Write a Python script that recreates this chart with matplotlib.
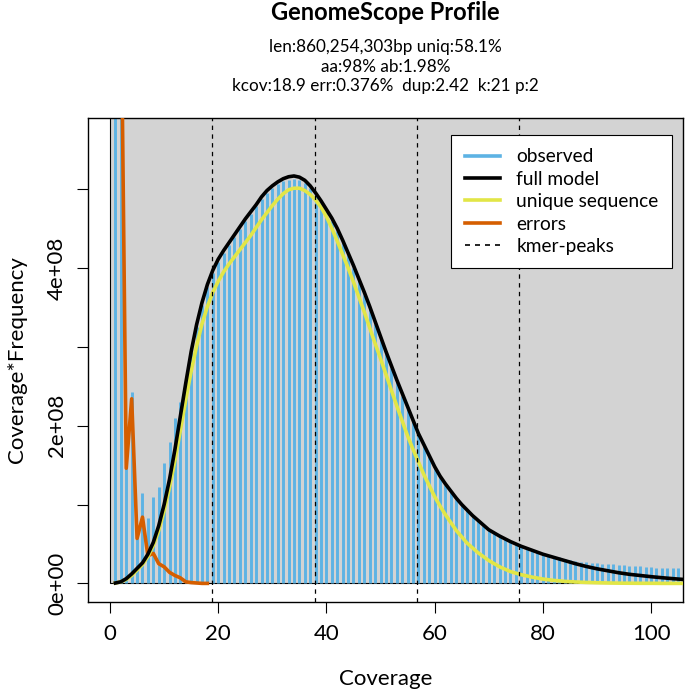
import numpy as np
import matplotlib
matplotlib.use("Agg")
import matplotlib.pyplot as plt
from matplotlib.patches import Rectangle
from matplotlib.lines import Line2D

plt.rcParams['font.family'] = ['Lato', 'DejaVu Sans']

# observed k-mer coverage * frequency (units of 1e8), coverage 1..106
obs_x = list(range(1, 107))
obs_y = [9.0, 7.5, 1.5, 2.42, 0.7, 1.14, 0.83, 1.09, 1.22, 1.52,
         1.79, 2.1, 2.3, 2.6, 2.93, 3.25, 3.53, 3.76, 3.94, 4.08,
         4.19, 4.29, 4.39, 4.49, 4.59, 4.68, 4.78, 4.87, 4.95, 5.01,
         5.06, 5.1, 5.12, 5.13, 5.12, 5.08, 5.01, 4.92, 4.82, 4.71,
         4.6, 4.47, 4.32, 4.16, 4.0, 3.83, 3.66, 3.48, 3.29, 3.1,
         2.91, 2.73, 2.55, 2.38, 2.21, 2.05, 1.89, 1.75, 1.61, 1.48,
         1.36, 1.25, 1.16, 1.07, 0.99, 0.92, 0.85, 0.79, 0.73, 0.68,
         0.64, 0.6, 0.56, 0.53, 0.5, 0.47, 0.45, 0.42, 0.4, 0.38,
         0.36, 0.34, 0.33, 0.31, 0.3, 0.28, 0.27, 0.265, 0.26, 0.255,
         0.25, 0.245, 0.24, 0.235, 0.23, 0.225, 0.22, 0.215, 0.21, 0.205,
         0.2, 0.2, 0.195, 0.19, 0.19, 0.185]

# full model and unique sequence curves (units of 1e8)
mod_x = list(range(1, 71)) + list(range(72, 110, 2))
full_y = [0.005, 0.02, 0.06, 0.12, 0.19, 0.26, 0.37, 0.52, 0.73, 1.0,
          1.32, 1.7, 2.12, 2.54, 2.94, 3.28, 3.56, 3.79, 3.97, 4.11,
          4.22, 4.32, 4.42, 4.52, 4.62, 4.71, 4.8, 4.9, 4.98, 5.04,
          5.09, 5.13, 5.155, 5.165, 5.15, 5.11, 5.04, 4.95, 4.85, 4.74,
          4.63, 4.5, 4.35, 4.19, 4.03, 3.86, 3.69, 3.51, 3.32, 3.13,
          2.94, 2.76, 2.58, 2.41, 2.24, 2.07, 1.9, 1.76, 1.62, 1.48,
          1.36, 1.26, 1.17, 1.08, 1.0, 0.93, 0.86, 0.8, 0.74, 0.68,
          0.6, 0.53, 0.47, 0.42, 0.37, 0.33, 0.29, 0.25, 0.215, 0.185,
          0.16, 0.135, 0.115, 0.1, 0.085, 0.072, 0.06, 0.05, 0.043]
uniq_y = [0.004, 0.02, 0.05, 0.1, 0.17, 0.24, 0.34, 0.48, 0.67, 0.92,
          1.22, 1.56, 1.94, 2.33, 2.69, 3.01, 3.29, 3.51, 3.69, 3.83,
          3.95, 4.05, 4.14, 4.23, 4.32, 4.41, 4.51, 4.61, 4.7, 4.79,
          4.87, 4.94, 4.99, 5.01, 5.01, 4.98, 4.93, 4.86, 4.77, 4.65,
          4.5, 4.34, 4.17, 4.0, 3.82, 3.63, 3.44, 3.24, 3.04, 2.85,
          2.65, 2.45, 2.25, 2.06, 1.87, 1.7, 1.54, 1.38, 1.24, 1.1,
          0.98, 0.87, 0.77, 0.67, 0.59, 0.51, 0.45, 0.39, 0.34, 0.29,
          0.21, 0.15, 0.11, 0.08, 0.055, 0.038, 0.026, 0.018, 0.012, 0.008,
          0.005, 0.003, 0.002, 0.001, 0.001, 0.0, 0.0, 0.0, 0.0]

# error k-mers (units of 1e8)
err_x = list(range(2, 19))
err_y = [7.8, 1.46, 2.34, 0.57, 0.84, 0.35, 0.38, 0.25, 0.21, 0.14,
         0.10, 0.07, 0.02, 0.01, 0.005, 0.0, 0.0]

kcov = 18.9
peaks = [kcov * i for i in range(1, 5)]

scale = 1e8
fig = plt.figure(figsize=(6.85, 6.92), dpi=100)
ax = fig.add_axes([88 / 685, 1 - 602 / 692, 595 / 685, 484 / 692])

ax.add_patch(Rectangle((0, 0), 500, 50e8, facecolor='#D3D3D3',
                       edgecolor='black', lw=0.8, zorder=0.5))
ax.vlines(obs_x, 0, np.array(obs_y) * scale, color='#5DB3E4', lw=2.1, zorder=1)
ax.plot(err_x, np.array(err_y) * scale, color='#D55E00', lw=2.6, zorder=3)
ax.plot(mod_x, np.array(uniq_y) * scale, color='#E2E646', lw=2.6, zorder=4)
ax.plot(mod_x, np.array(full_y) * scale, color='black', lw=2.6, zorder=5)
for p in peaks:
    ax.axvline(p, color='black', lw=0.9, linestyle=(0, (3.5, 3.5)), zorder=6)

ax.set_xlim(-4.07, 105.9)
ax.set_ylim(-0.236e8, 5.9e8)

ax.set_xticks([0, 20, 40, 60, 80, 100])
ax.set_xticklabels(['0', '20', '40', '60', '80', '100'], fontsize=16)
ax.set_yticks([0, 1e8, 2e8, 3e8, 4e8, 5e8])
ax.set_yticklabels(['0e+00', '', '2e+08', '', '4e+08', ''], fontsize=16,
                   rotation=90, va='center')
ax.tick_params(length=8, width=0.8)
ax.tick_params(axis='x', pad=8)
ax.tick_params(axis='y', pad=7)
for s in ax.spines.values():
    s.set_linewidth(1.0)

ax.set_xlabel('Coverage', fontsize=16)
ax.set_ylabel('Coverage*Frequency', fontsize=16)
ax.xaxis.set_label_coords(0.5, -0.138)
ax.yaxis.set_label_coords(-0.1025, 0.5)

fig.text(385.5 / 685, 1 - 12 / 692, 'GenomeScope Profile', ha='center',
         va='center', fontsize=17, fontweight='bold')
fig.text(385.5 / 685, 1 - 47 / 692, 'len:860,254,303bp uniq:58.1%', ha='center',
         va='center', fontsize=12.3)
fig.text(385.5 / 685, 1 - 67 / 692, 'aa:98% ab:1.98%', ha='center',
         va='center', fontsize=12.3)
fig.text(385.5 / 685, 1 - 86 / 692, 'kcov:18.9 err:0.376%  dup:2.42  k:21 p:2',
         ha='center', va='center', fontsize=12.3)

handles = [Line2D([], [], color='#5DB3E4', lw=2.6),
           Line2D([], [], color='black', lw=2.6),
           Line2D([], [], color='#E2E646', lw=2.6),
           Line2D([], [], color='#D55E00', lw=2.6),
           Line2D([], [], color='black', lw=1.2, linestyle=(0, (3, 3)))]
labels = ['observed', 'full model', 'unique sequence', 'errors', 'kmer-peaks']
leg = ax.legend(handles, labels, loc='upper right',
                bbox_to_anchor=((672 - 88) / 595, (602 - 135) / 484),
                fontsize=13.8, frameon=True, fancybox=False,
                handlelength=1.85, handletextpad=0.85, labelspacing=0.28,
                borderpad=0.7, borderaxespad=0)
leg.get_frame().set_edgecolor('black')
leg.get_frame().set_linewidth(0.8)
leg.get_frame().set_alpha(1)
leg.set_zorder(10)

fig.savefig('out.png', dpi=100)
